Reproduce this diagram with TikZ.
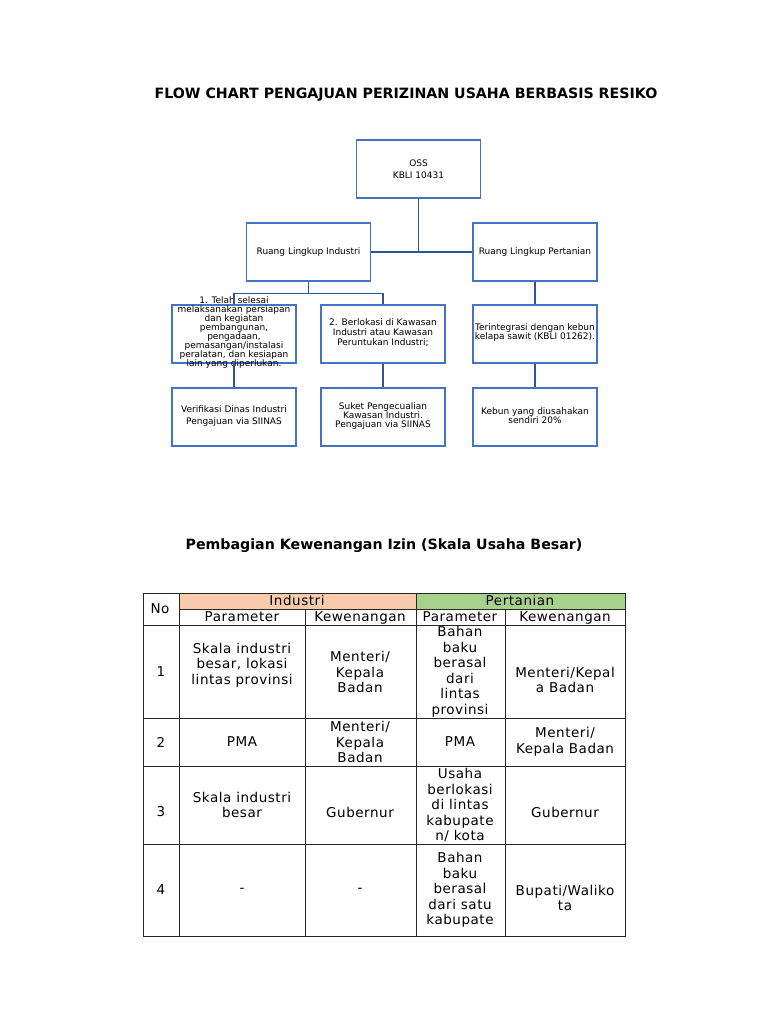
\documentclass[tikz,border=0pt]{standalone}
\usepackage{fontspec}
\setmainfont{DejaVu Sans}
\newfontfamily\tabfont[LetterSpace=4]{DejaVu Sans}
\usetikzlibrary{calc}
\definecolor{boxblue}{HTML}{4472C4}
\definecolor{linkblue}{HTML}{2F5597}
\definecolor{peachfill}{HTML}{F8CBAD}
\definecolor{greenfill}{HTML}{A9D18E}
\begin{document}
\begin{tikzpicture}[x=1pt,y=-1pt,
  fbox/.style={draw=boxblue, line width=1.1pt, minimum width=124pt, minimum height=58pt, inner sep=0pt},
  ftext/.style={font=\fontsize{9}{9}\selectfont, align=center, inner sep=0pt},
  link/.style={draw=linkblue, line width=1.3pt},
  ttl/.style={font=\bfseries\fontsize{14.2}{16}\selectfont, inner sep=0pt},
  cell/.style={font=\tabfont\fontsize{13.5}{15.5}\selectfont, align=center, inner sep=0pt},
  grid/.style={draw=black!85, line width=0.9pt}]
\fill[white] (0,0) rectangle (768,1024);
\useasboundingbox (0,0) rectangle (768,1024);

% titles
\node[ttl] (title) at (406,95) {FLOW CHART PENGAJUAN PERIZINAN USAHA BERBASIS RESIKO};
\node[ttl] (title2) at (384,546) {Pembagian Kewenangan Izin (Skala Usaha Besar)};

% flowchart boxes
\node[fbox] (oss) at (418.5,169) {};
\node[ftext, font=\fontsize{9}{12}\selectfont] (osst) at (oss) {OSS\\KBLI 10431};
\node[fbox] (ind) at (308.5,252) {};
\node[ftext] (indt) at (ind) {Ruang Lingkup Industri};
\node[fbox] (per) at (535,252) {};
\node[ftext] (pert) at (per) {Ruang Lingkup Pertanian};

\node[fbox] (b1) at (234,334) {};
\node[ftext] (b1t) at (234,333) {1. Telah selesai\\melaksanakan persiapan\\dan kegiatan\\pembangunan,\\pengadaan,\\pemasangan/instalasi\\peralatan, dan kesiapan\\lain yang diperlukan.};
\node[fbox] (b2) at (383,334) {};
\node[ftext, font=\fontsize{9}{10}\selectfont] (b2t) at (383,333) {2. Berlokasi di Kawasan\\Industri atau Kawasan\\Peruntukan Industri;};
\node[fbox] (b3) at (535,334) {};
\node[ftext] (b3t) at (535,333) {Terintegrasi dengan kebun\\kelapa sawit (KBLI 01262).};

\node[fbox] (b4) at (234,417) {};
\node[ftext, font=\fontsize{9}{12}\selectfont] (b4t) at (234,416) {Verifikasi Dinas Industri\\Pengajuan via SIINAS};
\node[fbox] (b5) at (383,417) {};
\node[ftext] (b5t) at (383,416) {Suket Pengecualian\\Kawasan Industri.\\Pengajuan via SIINAS};
\node[fbox] (b6) at (535,417) {};
\node[ftext] (b6t) at (535,416) {Kebun yang diusahakan\\sendiri 20\%};

% connectors
\draw[link, line width=1.8pt] (ind.east) -- (per.west);
\draw[link, line width=1.1pt] (oss.south) -- (oss.south |- ind.east);
\coordinate (jn) at ($(ind.south)+(0,12)$);
\draw[link] (ind.south) -- (jn);
\draw[link, line width=1.1pt] (b1.north) |- (jn) -| (b2.north);
\draw[link, line width=1.1pt] (per.south) -- (b3.north);
\draw[link, line width=1.1pt] (b1.south) -- (b4.north);
\draw[link, line width=1.8pt] (b2.south) -- (b5.north);
\draw[link, line width=1.1pt] (b3.south) -- (b6.north);

% table fills
\fill[peachfill] (179,593) rectangle (416,609);
\fill[greenfill] (416,593) rectangle (625,609);

% table grid
\draw[grid] (143,593) rectangle (625,936);
\draw[grid] (179,593) -- (179,936);
\draw[grid] (416,593) -- (416,936);
\draw[grid] (305,609) -- (305,936);
\draw[grid] (505,609) -- (505,936);
\draw[grid] (179,609) -- (625,609);
\foreach \yy in {625,718,766,844} \draw[grid] (143,\yy) -- (625,\yy);

% table header
\node[cell, anchor=base] (hno) at (160,613) {No};
\node[cell, anchor=base] (hind) at (297,605) {Industri};
\node[cell, anchor=base] (hper) at (520,605) {Pertanian};
\node[cell, anchor=base] (hp1) at (242,621) {Parameter};
\node[cell, anchor=base] (hk1) at (360,621) {Kewenangan};
\node[cell, anchor=base] (hp2) at (460,621) {Parameter};
\node[cell, anchor=base] (hk2) at (565,621) {Kewenangan};

% row 1
\node[cell] (r1n) at (161,672) {1};
\node[cell] (r1a) at (242,665) {Skala industri\\besar, lokasi\\lintas provinsi};
\node[cell] (r1b) at (360,672) {Menteri/\\Kepala\\Badan};
\node[cell] (r1c) at (460,672) {Bahan\\baku\\berasal\\dari\\lintas\\provinsi};
\node[cell] (r1d) at (565,680) {Menteri/Kepal\\a Badan};

% row 2
\node[cell] (r2n) at (161,742) {2};
\node[cell] (r2a) at (242,742) {PMA};
\node[cell] (r2b) at (360,742) {Menteri/\\Kepala\\Badan};
\node[cell] (r2c) at (460,742) {PMA};
\node[cell] (r2d) at (565,742) {Menteri/\\Kepala Badan};

% row 3
\node[cell] (r3n) at (161,812) {3};
\node[cell] (r3a) at (242,805) {Skala industri\\besar};
\node[cell] (r3b) at (360,812) {Gubernur};
\node[cell] (r3c) at (460,805) {Usaha\\berlokasi\\di lintas\\kabupate\\n/ kota};
\node[cell] (r3d) at (565,812) {Gubernur};

% row 4
\node[cell] (r4n) at (161,890) {4};
\node[cell] (r4a) at (242,890) {-};
\node[cell] (r4b) at (360,890) {-};
\node[cell] (r4c) at (460,890) {Bahan\\baku\\berasal\\dari satu\\kabupate};
\node[cell] (r4d) at (565,898) {Bupati/Waliko\\ta};
\end{tikzpicture}
\end{document}
